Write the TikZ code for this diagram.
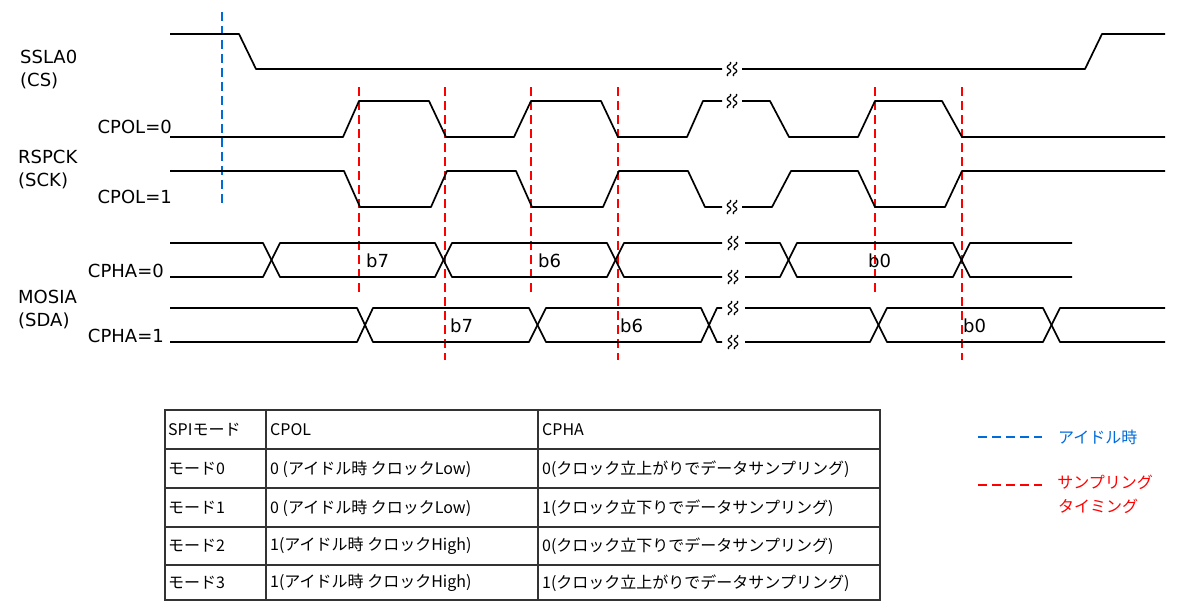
\documentclass[tikz,border=0pt]{standalone}
\usepackage{fontspec}
\setmainfont{DejaVu Sans}
\newfontfamily\jp{Noto Sans CJK JP}
\begin{document}
\begin{tikzpicture}[x=1pt,y=-1pt,
  wave/.style={line width=1.7pt,line join=round},
  reddash/.style={red,dash pattern=on 9pt off 5pt,line width=1.3pt},
  bluedash/.style={blue!50!cyan!85!black,dash pattern=on 9pt off 5pt,line width=1.3pt},
  lbl/.style={font=\fontsize{18}{20}\selectfont,inner sep=0pt},
  cell/.style={font=\jp\fontsize{16}{18}\selectfont,anchor=west,inner sep=0pt},
  brk/.pic={\foreach \d in {-3,3}{\draw[line width=1.2pt] plot[domain=-7:7,smooth,samples=15] ({\d+1.8*sin(\x*45)},\x);}}]
\useasboundingbox (0,0) rectangle (1200,614);
% labels
\node[lbl,anchor=west] (l1) at (20,57) {SSLA0};
\node[lbl,anchor=west] (l2) at (20,81) {(CS)};
\node[lbl,anchor=east] (l3) at (172,127) {CPOL=0};
\node[lbl,anchor=west] (l4) at (18,157) {RSPCK};
\node[lbl,anchor=west] (l5) at (18,181) {(SCK)};
\node[lbl,anchor=east] (l6) at (172,197) {CPOL=1};
\node[lbl,anchor=east] (l7) at (164,271) {CPHA=0};
\node[lbl,anchor=west] (l8) at (18,297) {MOSIA};
\node[lbl,anchor=west] (l9) at (18,321) {(SDA)};
\node[lbl,anchor=east] (l10) at (164,336) {CPHA=1};
% dashed markers
\draw[bluedash] (222,12) -- (222,207);
\foreach \x in {359,531,875} \draw[reddash] (\x,87) -- (\x,295);
\foreach \x in {445,618,962} \draw[reddash] (\x,87) -- (\x,360);
% SSLA0
\draw[wave] (170,34) -- (239,34) -- (256,69) -- (722,69);
\draw[wave] (742,69) -- (1085,69) -- (1102,34) -- (1165,34);
\pic at (732,69) {brk};
% CPOL=0
\draw[wave] (170,137) -- (343,137) -- (359,101) -- (429,101) -- (446,137) -- (514,137) -- (531,101) -- (601,101) -- (618,137) -- (687,137) -- (703,101) -- (722,101);
\draw[wave] (742,101) -- (770,101) -- (789,137) -- (858,137) -- (875,101) -- (942,101) -- (962,137) -- (1165,137);
\pic at (732,101) {brk};
% CPOL=1
\draw[wave] (170,171) -- (344,171) -- (360,207) -- (431,207) -- (447,171) -- (516,171) -- (532,207) -- (603,207) -- (619,171) -- (688,171) -- (705,207) -- (722,207);
\draw[wave] (742,207) -- (772,207) -- (791,171) -- (858,171) -- (875,207) -- (945,207) -- (962,171) -- (1165,171);
\pic at (732,207) {brk};
% CPHA=0
\draw[wave] (170,243) -- (263,243) -- (280,277) -- (435,277) -- (452,243) -- (607,243) -- (624,277) -- (722,277);
\draw[wave] (170,277) -- (263,277) -- (280,243) -- (435,243) -- (452,277) -- (607,277) -- (624,243) -- (722,243);
\draw[wave] (745,243) -- (780,243) -- (797,277) -- (953,277) -- (970,243) -- (1072,243);
\draw[wave] (745,277) -- (780,277) -- (797,243) -- (953,243) -- (970,277) -- (1072,277);
\pic at (733,243) {brk};
\pic at (733,277) {brk};
\node[lbl,anchor=west] (b7a) at (366,261) {b7};
\node[lbl,anchor=west] (b6a) at (538,261) {b6};
\node[lbl,anchor=west] (b0a) at (868,261) {b0};
% CPHA=1
\draw[wave] (170,308) -- (357,308) -- (373,342) -- (529,342) -- (546,308) -- (701,308) -- (717,342) -- (722,342);
\draw[wave] (170,342) -- (357,342) -- (373,308) -- (529,308) -- (546,342) -- (701,342) -- (717,308) -- (722,308);
\draw[wave] (745,308) -- (870,308) -- (887,342) -- (1043,342) -- (1060,308) -- (1165,308);
\draw[wave] (745,342) -- (870,342) -- (887,308) -- (1043,308) -- (1060,342) -- (1165,342);
\pic at (733,308) {brk};
\pic at (733,342) {brk};
\node[lbl,anchor=west] (b7b) at (450,326) {b7};
\node[lbl,anchor=west] (b6b) at (620,326) {b6};
\node[lbl,anchor=west] (b0b) at (963,326) {b0};
% table
\draw[line width=1.2pt,black!80] (165,410) rectangle (880,600);
\foreach \y in {449,488,527,565} \draw[line width=1.2pt,black!80] (165,\y) -- (880,\y);
\foreach \x in {266,538} \draw[line width=1.2pt,black!80] (\x,410) -- (\x,600);
\node[cell] (h1) at (168,430) {SPIモード};
\node[cell] (h2) at (270,430) {CPOL};
\node[cell] (h3) at (542,430) {CPHA};
\node[cell] (r1a) at (168,469) {モード0};
\node[cell] (r1b) at (270,469) {0 (アイドル時 クロックLow)};
\node[cell] (r1c) at (542,469) {0(クロック立上がりでデータサンプリング)};
\node[cell] (r2a) at (168,508) {モード1};
\node[cell] (r2b) at (270,508) {0 (アイドル時 クロックLow)};
\node[cell] (r2c) at (542,508) {1(クロック立下りでデータサンプリング)};
\node[cell] (r3a) at (168,546) {モード2};
\node[cell] (r3b) at (270,546) {1(アイドル時 クロックHigh)};
\node[cell] (r3c) at (542,546) {0(クロック立下りでデータサンプリング)};
\node[cell] (r4a) at (168,583) {モード3};
\node[cell] (r4b) at (270,583) {1(アイドル時 クロックHigh)};
\node[cell] (r4c) at (542,583) {1(クロック立上がりでデータサンプリング)};
% legend
\draw[bluedash] (978,437) -- (1042,437);
\node[cell,text=blue!50!cyan!85!black] (lg1) at (1058,437) {アイドル時};
\draw[reddash] (978,485) -- (1042,485);
\node[cell,text=red,anchor=center] (lg2) at (1105,482) {サンプリング};
\node[cell,text=red,anchor=center] (lg3) at (1098,506) {タイミング};
\end{tikzpicture}
\end{document}
